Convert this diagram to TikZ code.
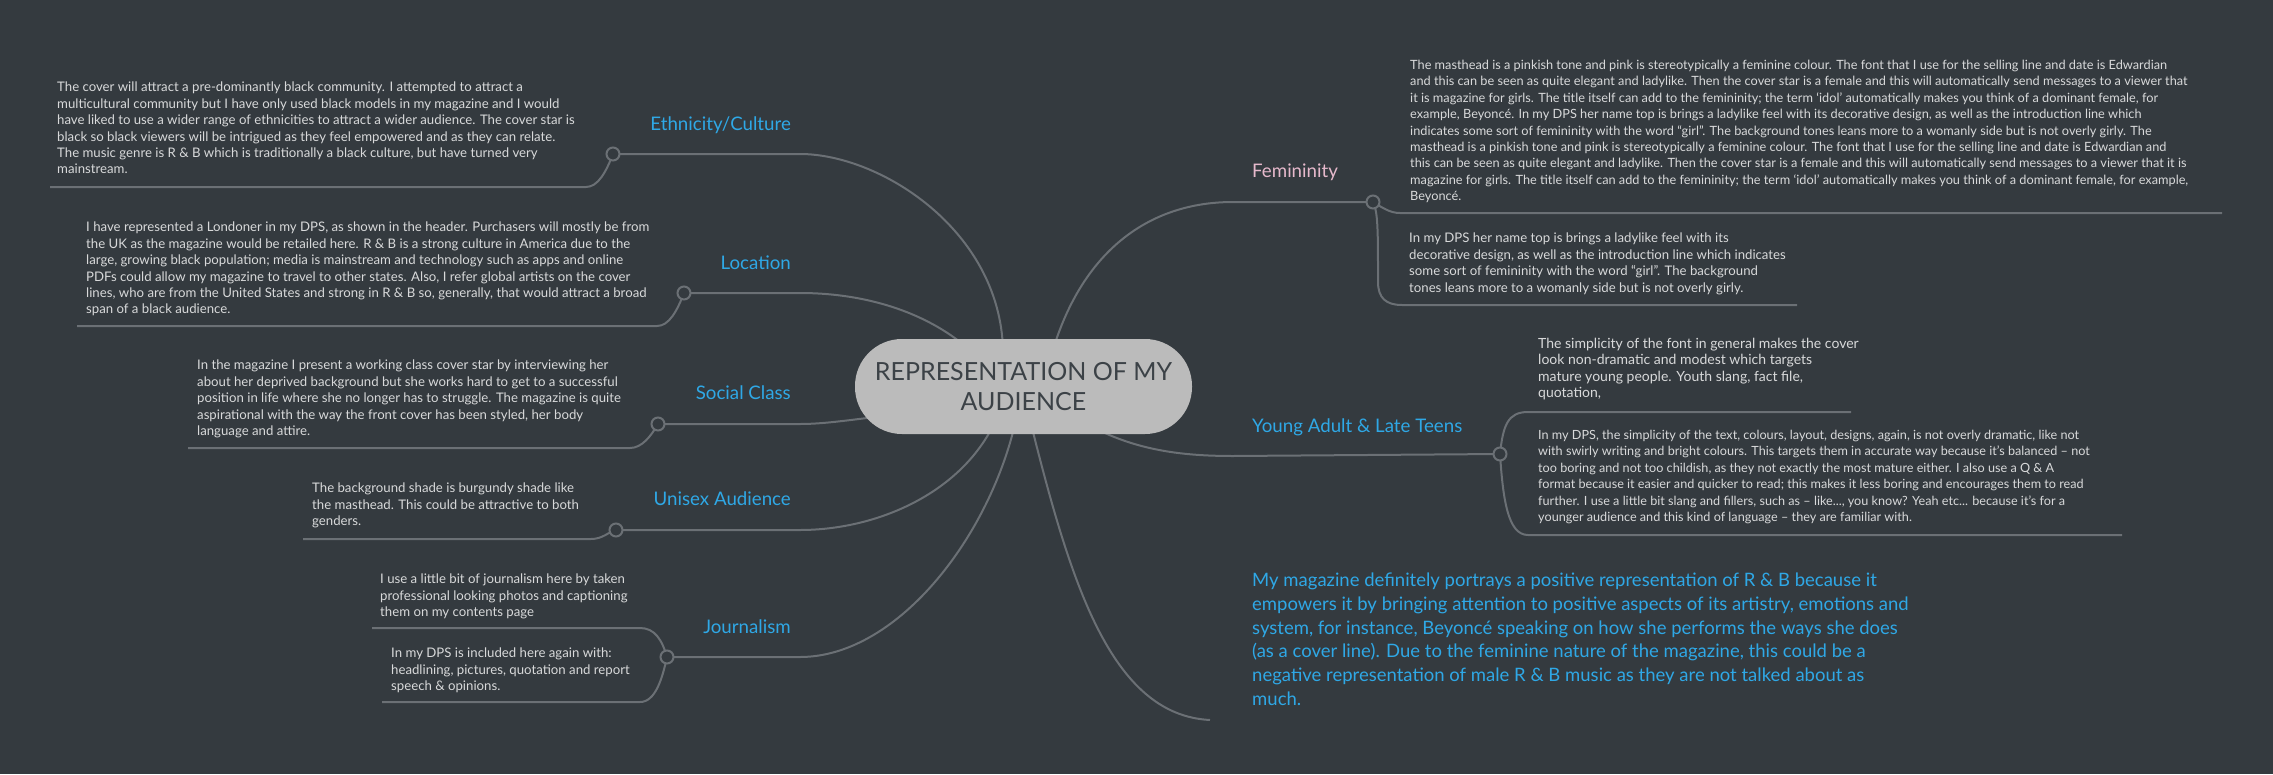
\documentclass[tikz,border=0pt]{standalone}
\usepackage{fontspec}
\setmainfont{Lato}
\definecolor{bgc}{HTML}{343A3F}
\definecolor{linec}{HTML}{6B7075}
\definecolor{leafc}{HTML}{D8D9DA}
\definecolor{bluec}{HTML}{2FA8E6}
\definecolor{pinkc}{HTML}{E6B9CC}
\definecolor{pillc}{HTML}{BBBBBB}
\definecolor{pilltext}{HTML}{3C4247}
\pgfdeclarelayer{bglayer}
\pgfdeclarelayer{linelayer}
\pgfsetlayers{bglayer,linelayer,main}
\begin{document}
\begin{tikzpicture}[x=1pt,y=-1pt,
  conn/.style={draw=linec, line width=2pt},
  dot/.style={circle, draw=linec, fill=bgc, line width=2pt, minimum size=13pt, inner sep=0pt},
  leaf/.style={anchor=north west, inner sep=0pt, align=left, text=leafc, font=\fontsize{13.2}{16.4}\selectfont},
  lbl/.style={inner sep=0pt, text=bluec, font=\fontsize{18.7}{22}\selectfont},
  summ/.style={anchor=north west, inner sep=0pt, align=left, text=bluec, font=\fontsize{18.5}{23.7}\selectfont},
  pill/.style={fill=pillc, rounded corners=47pt, minimum width=337pt, minimum height=95pt, align=center, text=pilltext, inner sep=0pt, font=\fontsize{25}{30}\selectfont}]
\useasboundingbox (0,0) rectangle (2273,774);
\begin{pgfonlayer}{bglayer}
\fill[bgc] (0,0) rectangle (2273,774);
\end{pgfonlayer}

% central topic
\node[pill] (c) at (1023.5,386.5) {REPRESENTATION OF MY\\AUDIENCE};

% ---------------- left side ----------------
% Ethnicity/Culture
\node[lbl, anchor=mid east] (leth) at (791,128) {Ethnicity/Culture};
\node[dot] (ceth) at (613,154) {};
\node[leaf] (teth) at (57,82) {The cover will attract a pre-dominantly black community. I attempted to attract a\\
multicultural community but I have only used black models in my magazine and I would\\
have liked to use a wider range of ethnicities to attract a wider audience. The cover star is\\
black so black viewers will be intrigued as they feel empowered and as they can relate.\\
The music genre is R \& B which is traditionally a black culture, but have turned very\\
mainstream.};
\coordinate (beth) at (800,154);
\coordinate (peth) at (1003,350);
\coordinate (ueth1) at (50,187);
\coordinate (ueth2) at (586,187);

% Location
\node[lbl, anchor=mid east] (lloc) at (791,267) {Location};
\node[dot] (cloc) at (684,293) {};
\node[leaf] (tloc) at (86,222) {I have represented a Londoner in my DPS, as shown in the header. Purchasers will mostly be from\\
the UK as the magazine would be retailed here. R \& B is a strong culture in America due to the\\
large, growing black population; media is mainstream and technology such as apps and online\\
PDFs could allow my magazine to travel to other states. Also, I refer global artists on the cover\\
lines, who are from the United States and strong in R \& B so, generally, that would attract a broad\\
span of a black audience.};
\coordinate (bloc) at (800,293);
\coordinate (ploc) at (985,365);
\coordinate (uloc1) at (77,326);
\coordinate (uloc2) at (657,326);

% Social Class
\node[lbl, anchor=mid east] (lsoc) at (791,397) {Social Class};
\node[dot] (csoc) at (658,424) {};
\node[leaf] (tsoc) at (197,360) {In the magazine I present a working class cover star by interviewing her\\
about her deprived background but she works hard to get to a successful\\
position in life where she no longer has to struggle. The magazine is quite\\
aspirational with the way the front cover has been styled, her body\\
language and attire.};
\coordinate (bsoc) at (800,424);
\coordinate (psoc) at (920,412);
\coordinate (usoc1) at (188,448);
\coordinate (usoc2) at (630,448);

% Unisex Audience
\node[lbl, anchor=mid east] (luni) at (791,503) {Unisex Audience};
\node[dot] (cuni) at (616,530) {};
\node[leaf] (tuni) at (312,483) {The background shade is burgundy shade like\\
the masthead. This could be attractive to both\\
genders.};
\coordinate (buni) at (800,530);
\coordinate (puni) at (1000,410);
\coordinate (uuni1) at (303,539);
\coordinate (uuni2) at (591,539);

% Journalism
\node[lbl, anchor=mid east] (ljou) at (791,631) {Journalism};
\node[dot] (cjou) at (667,657) {};
\node[leaf] (tjou1) at (380,574) {I use a little bit of journalism here by taken\\
professional looking photos and captioning\\
them on my contents page};
\node[leaf] (tjou2) at (391,648) {In my DPS is included here again with:\\
headlining, pictures, quotation and report\\
speech \& opinions.};
\coordinate (bjou) at (800,657);
\coordinate (pjou) at (1018,410);
\coordinate (ujou1) at (372,628);
\coordinate (ujou2) at (640,628);
\coordinate (ujou3) at (382,702);
\coordinate (ujou4) at (640,702);

% ---------------- right side ----------------
% Femininity
\node[lbl, anchor=mid west, text=pinkc] (lfem) at (1252,175) {Femininity};
\node[dot] (cfem) at (1373,202) {};
\node[leaf, font=\fontsize{12.75}{16.4}\selectfont] (tfem1) at (1410,60) {The masthead is a pinkish tone and pink is stereotypically a feminine colour. The font that I use for the selling line and date is Edwardian\\
and this can be seen as quite elegant and ladylike. Then the cover star is a female and this will automatically send messages to a viewer that\\
it is magazine for girls. The title itself can add to the femininity; the term ‘idol’ automatically makes you think of a dominant female, for\\
example, Beyoncé. In my DPS her name top is brings a ladylike feel with its decorative design, as well as the introduction line which\\
indicates some sort of femininity with the word “girl”. The background tones leans more to a womanly side but is not overly girly. The\\
masthead is a pinkish tone and pink is stereotypically a feminine colour. The font that I use for the selling line and date is Edwardian and\\
this can be seen as quite elegant and ladylike. Then the cover star is a female and this will automatically send messages to a viewer that it is\\
magazine for girls. The title itself can add to the femininity; the term ‘idol’ automatically makes you think of a dominant female, for example,\\
Beyoncé.};
\node[leaf] (tfem2) at (1409,233) {In my DPS her name top is brings a ladylike feel with its\\
decorative design, as well as the introduction line which indicates\\
some sort of femininity with the word “girl”. The background\\
tones leans more to a womanly side but is not overly girly.};
\coordinate (bfem) at (1233,202);
\coordinate (pfem) at (1050,360);
\coordinate (ufem1) at (1400,213);
\coordinate (ufem2) at (2222,213);
\coordinate (ufem3) at (1378,282);
\coordinate (ufem4) at (1402,305);
\coordinate (ufem5) at (1797,305);

% Young Adult & Late Teens
\node[lbl, anchor=mid west] (lyou) at (1252,430) {Young Adult \& Late Teens};
\node[dot] (cyou) at (1500,454) {};
\node[leaf, font=\fontsize{14}{16.4}\selectfont] (tyou1) at (1538,338) {The simplicity of the font in general makes the cover\\
look non-dramatic and modest which targets\\
mature young people. Youth slang, fact file,\\
quotation,};
\node[leaf, font=\fontsize{12.65}{16.4}\selectfont] (tyou2) at (1538,430) {In my DPS, the simplicity of the text, colours, layout, designs, again, is not overly dramatic, like not\\
with swirly writing and bright colours. This targets them in accurate way because it’s balanced – not\\
too boring and not too childish, as they not exactly the most mature either. I also use a Q \& A\\
format because it easier and quicker to read; this makes it less boring and encourages them to read\\
further. I use a little bit slang and fillers, such as – like..., you know? Yeah etc... because it’s for a\\
younger audience and this kind of language – they are familiar with.};
\coordinate (byou) at (1233,456);
\coordinate (pyou) at (1080,420);
\coordinate (uyou1) at (1528,412);
\coordinate (uyou2) at (1851,412);
\coordinate (uyou3) at (1528,535);
\coordinate (uyou4) at (2122,535);

% Summary
\node[summ] (tsum) at (1252,573) {My magazine definitely portrays a positive representation of R \& B because it\\
empowers it by bringing attention to positive aspects of its artistry, emotions and\\
system, for instance, Beyoncé speaking on how she performs the ways she does\\
(as a cover line). Due to the feminine nature of the magazine, this could be a\\
negative representation of male R \& B music as they are not talked about as\\
much.};
\coordinate (bsum) at (1210,720);
\coordinate (psum) at (1030,420);

% ---------------- connectors ----------------
\begin{pgfonlayer}{linelayer}
% main branches
\draw[conn] (ceth.center) -- (beth) .. controls (880,154) and (1000,230) .. (peth);
\draw[conn] (cloc.center) -- (bloc) .. controls (870,293) and (940,315) .. (ploc);
\draw[conn] (csoc.center) -- (bsoc) .. controls (830,424) and (860,418) .. (psoc);
\draw[conn] (cuni.center) -- (buni) .. controls (880,530) and (970,490) .. (puni);
\draw[conn] (cjou.center) -- (bjou) .. controls (900,657) and (995,530) .. (pjou);
\draw[conn] (cfem.center) -- (bfem) .. controls (1150,202) and (1080,250) .. (pfem);
\draw[conn] (cyou.center) -- (byou) .. controls (1180,456) and (1130,450) .. (pyou);
\draw[conn] (bsum) .. controls (1110,715) and (1070,580) .. (psum);
% leaf connectors
\draw[conn] (ueth1) -- (ueth2) .. controls (598,187) and (606,172) .. (ceth.center);
\draw[conn] (uloc1) -- (uloc2) .. controls (669,326) and (677,311) .. (cloc.center);
\draw[conn] (usoc1) -- (usoc2) .. controls (642,448) and (651,436) .. (csoc.center);
\draw[conn] (uuni1) -- (uuni2) .. controls (603,539) and (608,532) .. (cuni.center);
\draw[conn] (ujou1) -- (ujou2) .. controls (655,628) and (662,640) .. (cjou.center);
\draw[conn] (ujou3) -- (ujou4) .. controls (655,702) and (662,680) .. (cjou.center);
\draw[conn] (cfem.center) .. controls (1383,208) and (1390,213) .. (ufem1) -- (ufem2);
\draw[conn] (cfem.center) .. controls (1378,212) and (1378,230) .. (ufem3) .. controls (1378,298) and (1386,305) .. (ufem4) -- (ufem5);
\draw[conn] (cyou.center) .. controls (1503,425) and (1508,412) .. (uyou1) -- (uyou2);
\draw[conn] (cyou.center) .. controls (1503,500) and (1508,535) .. (uyou3) -- (uyou4);
\end{pgfonlayer}
\end{tikzpicture}
\end{document}
